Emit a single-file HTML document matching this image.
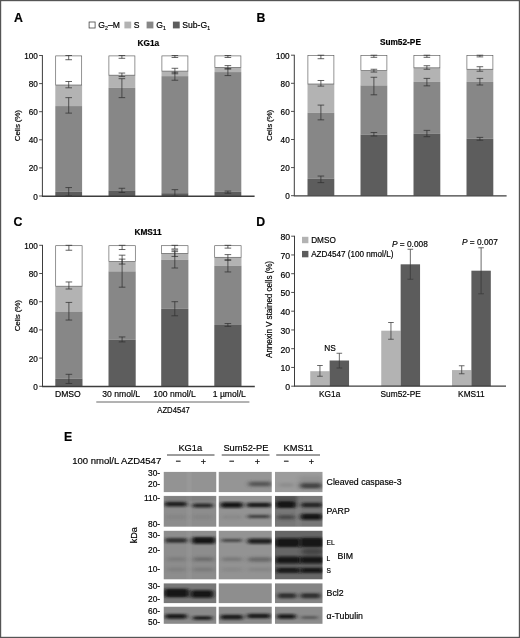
<!DOCTYPE html>
<html><head><meta charset="utf-8"><title>Figure</title>
<style>html,body{margin:0;padding:0;background:#fff}svg{display:block}text{font-family:'Liberation Sans', sans-serif;fill:#000;stroke:#000;stroke-width:0.18px}</style>
</head><body>
<svg width="520" height="638" viewBox="0 0 520 638">
<defs><filter id="b1" x="-30%" y="-100%" width="160%" height="300%"><feGaussianBlur stdDeviation="2 1.25"/></filter><filter id="b2" x="-30%" y="-100%" width="160%" height="300%"><feGaussianBlur stdDeviation="2.6 1.7"/></filter><filter id="soft"><feGaussianBlur stdDeviation="0.35"/></filter></defs>
<rect x="0" y="0" width="520" height="638" fill="#fff"/>
<g filter="url(#soft)">
<rect x="0.6" y="0.6" width="518.8" height="636.8" fill="none" stroke="#555" stroke-width="1.2"/>
<text x="14" y="22.2" font-size="12.3" text-anchor="start" font-weight="bold" font-style="normal" >A</text>
<text x="256.6" y="22.2" font-size="12.3" text-anchor="start" font-weight="bold" font-style="normal" >B</text>
<text x="13.6" y="225.6" font-size="12.3" text-anchor="start" font-weight="bold" font-style="normal" >C</text>
<text x="256.3" y="225.5" font-size="12.3" text-anchor="start" font-weight="bold" font-style="normal" >D</text>
<text x="64.1" y="441.3" font-size="12.3" text-anchor="start" font-weight="bold" font-style="normal" >E</text>
<rect x="89.10000000000001" y="22.0" width="6.0" height="6.0" fill="#fff" stroke="#444" stroke-width="0.8"/>
<text x="98.3" y="28.2" font-size="8.6">G<tspan font-size="5.2" dy="1.6">2</tspan><tspan dy="-1.6">–M</tspan></text>
<rect x="124.4" y="21.6" width="6.8" height="6.8" fill="#b3b3b3"/>
<text x="133.8" y="28.2" font-size="8.6" text-anchor="start" font-weight="normal" font-style="normal" >S</text>
<rect x="146.6" y="21.6" width="6.8" height="6.8" fill="#878787"/>
<text x="156.2" y="28.2" font-size="8.6">G<tspan font-size="5.2" dy="1.6">1</tspan></text>
<rect x="172.9" y="21.6" width="6.8" height="6.8" fill="#5d5d5d"/>
<text x="182.3" y="28.2" font-size="8.6">Sub-G<tspan font-size="5.2" dy="1.6">1</tspan></text>
<rect x="55.3" y="55.5" width="26.8" height="29.5" fill="#ffffff"/>
<rect x="55.3" y="85.0" width="26.8" height="21.07" fill="#b3b3b3"/>
<rect x="55.3" y="106.08" width="26.8" height="85.7" fill="#878787"/>
<rect x="55.3" y="191.78" width="26.8" height="4.21" fill="#5d5d5d"/>
<rect x="55.699999999999996" y="55.9" width="26.0" height="29.11" stroke="#5a5a5a" stroke-width="0.65" fill="none"/>
<path d="M68.7 187.57V196.0M65.4 187.57H72.0M65.4 196.0H72.0" stroke="#303030" stroke-width="0.75" fill="none"/>
<path d="M68.7 97.65V113.11M65.4 97.65H72.0M65.4 113.11H72.0" stroke="#303030" stroke-width="0.75" fill="none"/>
<path d="M68.7 81.49V87.81M65.4 81.49H72.0M65.4 87.81H72.0" stroke="#303030" stroke-width="0.75" fill="none"/>
<path d="M68.7 55.5V59.72M65.4 55.5H72.0M65.4 59.72H72.0" stroke="#303030" stroke-width="0.75" fill="none"/>
<rect x="108.5" y="55.5" width="26.8" height="19.67" fill="#ffffff"/>
<rect x="108.5" y="75.17" width="26.8" height="12.64" fill="#b3b3b3"/>
<rect x="108.5" y="87.81" width="26.8" height="102.56" fill="#878787"/>
<rect x="108.5" y="190.38" width="26.8" height="5.62" fill="#5d5d5d"/>
<rect x="108.9" y="55.9" width="26.0" height="19.27" stroke="#5a5a5a" stroke-width="0.65" fill="none"/>
<path d="M121.9 188.27V192.49M118.60000000000001 188.27H125.2M118.60000000000001 192.49H125.2" stroke="#303030" stroke-width="0.75" fill="none"/>
<path d="M121.9 78.68V97.65M118.60000000000001 78.68H125.2M118.60000000000001 97.65H125.2" stroke="#303030" stroke-width="0.75" fill="none"/>
<path d="M121.9 73.06V76.58M118.60000000000001 73.06H125.2M118.60000000000001 76.58H125.2" stroke="#303030" stroke-width="0.75" fill="none"/>
<path d="M121.9 55.5V58.31M118.60000000000001 55.5H125.2M118.60000000000001 58.31H125.2" stroke="#303030" stroke-width="0.75" fill="none"/>
<rect x="161.5" y="55.5" width="26.8" height="15.6" fill="#ffffff"/>
<rect x="161.5" y="71.1" width="26.8" height="5.06" fill="#b3b3b3"/>
<rect x="161.5" y="76.15" width="26.8" height="117.04" fill="#878787"/>
<rect x="161.5" y="193.19" width="26.8" height="2.81" fill="#5d5d5d"/>
<rect x="161.9" y="55.9" width="26.0" height="15.2" stroke="#5a5a5a" stroke-width="0.65" fill="none"/>
<path d="M174.9 189.68V196.0M171.6 189.68H178.20000000000002M171.6 196.0H178.20000000000002" stroke="#303030" stroke-width="0.75" fill="none"/>
<path d="M174.9 72.22V80.23M171.6 72.22H178.20000000000002M171.6 80.23H178.20000000000002" stroke="#303030" stroke-width="0.75" fill="none"/>
<path d="M174.9 68.29V73.77M171.6 68.29H178.20000000000002M171.6 73.77H178.20000000000002" stroke="#303030" stroke-width="0.75" fill="none"/>
<path d="M174.9 55.5V57.47M171.6 55.5H178.20000000000002M171.6 57.47H178.20000000000002" stroke="#303030" stroke-width="0.75" fill="none"/>
<rect x="214.5" y="55.5" width="26.8" height="11.94" fill="#ffffff"/>
<rect x="214.5" y="67.44" width="26.8" height="4.64" fill="#b3b3b3"/>
<rect x="214.5" y="72.08" width="26.8" height="119.71" fill="#878787"/>
<rect x="214.5" y="191.78" width="26.8" height="4.21" fill="#5d5d5d"/>
<rect x="214.9" y="55.9" width="26.0" height="11.54" stroke="#5a5a5a" stroke-width="0.65" fill="none"/>
<path d="M227.9 191.08V193.19M224.6 191.08H231.20000000000002M224.6 193.19H231.20000000000002" stroke="#303030" stroke-width="0.75" fill="none"/>
<path d="M227.9 68.71V75.59M224.6 68.71H231.20000000000002M224.6 75.59H231.20000000000002" stroke="#303030" stroke-width="0.75" fill="none"/>
<path d="M227.9 65.62V68.99M224.6 65.62H231.20000000000002M224.6 68.99H231.20000000000002" stroke="#303030" stroke-width="0.75" fill="none"/>
<path d="M227.9 55.5V57.47M224.6 55.5H231.20000000000002M224.6 57.47H231.20000000000002" stroke="#303030" stroke-width="0.75" fill="none"/>
<path d="M42.4 55.1V196" stroke="#3c3c3c" stroke-width="1" fill="none"/>
<path d="M41.9 196.2H254.60000000000002" stroke="#3c3c3c" stroke-width="1.4" fill="none"/>
<path d="M39.1 196.0H42.4" stroke="#3c3c3c" stroke-width="0.9"/>
<text x="37.8" y="199.5" font-size="8.2" text-anchor="end" font-weight="normal" font-style="normal" >0</text>
<path d="M39.1 167.9H42.4" stroke="#3c3c3c" stroke-width="0.9"/>
<text x="37.8" y="171.4" font-size="8.2" text-anchor="end" font-weight="normal" font-style="normal" >20</text>
<path d="M39.1 139.8H42.4" stroke="#3c3c3c" stroke-width="0.9"/>
<text x="37.8" y="143.3" font-size="8.2" text-anchor="end" font-weight="normal" font-style="normal" >40</text>
<path d="M39.1 111.7H42.4" stroke="#3c3c3c" stroke-width="0.9"/>
<text x="37.8" y="115.2" font-size="8.2" text-anchor="end" font-weight="normal" font-style="normal" >60</text>
<path d="M39.1 83.6H42.4" stroke="#3c3c3c" stroke-width="0.9"/>
<text x="37.8" y="87.1" font-size="8.2" text-anchor="end" font-weight="normal" font-style="normal" >80</text>
<path d="M39.1 55.5H42.4" stroke="#3c3c3c" stroke-width="0.9"/>
<text x="37.8" y="59.0" font-size="8.2" text-anchor="end" font-weight="normal" font-style="normal" >100</text>
<text transform="translate(19.9 125.75) rotate(-90)" font-size="8.1" text-anchor="middle" letter-spacing="-0.2">Cells (%)</text>
<text x="148.4" y="45.9" font-size="8.3" text-anchor="middle" font-weight="bold" font-style="normal" >KG1a</text>
<rect x="307.5" y="55.2" width="26.8" height="28.8" fill="#ffffff"/>
<rect x="307.5" y="84.0" width="26.8" height="28.8" fill="#b3b3b3"/>
<rect x="307.5" y="112.8" width="26.8" height="66.03" fill="#878787"/>
<rect x="307.5" y="178.84" width="26.8" height="16.86" fill="#5d5d5d"/>
<rect x="307.9" y="55.6" width="26.0" height="28.4" stroke="#5a5a5a" stroke-width="0.65" fill="none"/>
<path d="M320.9 176.03V182.63M317.59999999999997 176.03H324.2M317.59999999999997 182.63H324.2" stroke="#303030" stroke-width="0.75" fill="none"/>
<path d="M320.9 105.08V119.83M317.59999999999997 105.08H324.2M317.59999999999997 119.83H324.2" stroke="#303030" stroke-width="0.75" fill="none"/>
<path d="M320.9 80.49V86.11M317.59999999999997 80.49H324.2M317.59999999999997 86.11H324.2" stroke="#303030" stroke-width="0.75" fill="none"/>
<path d="M320.9 55.2V58.71M317.59999999999997 55.2H324.2M317.59999999999997 58.71H324.2" stroke="#303030" stroke-width="0.75" fill="none"/>
<rect x="360.5" y="55.2" width="26.8" height="15.46" fill="#ffffff"/>
<rect x="360.5" y="70.65" width="26.8" height="14.75" fill="#b3b3b3"/>
<rect x="360.5" y="85.41" width="26.8" height="49.18" fill="#878787"/>
<rect x="360.5" y="134.58" width="26.8" height="61.12" fill="#5d5d5d"/>
<rect x="360.9" y="55.6" width="26.0" height="15.05" stroke="#5a5a5a" stroke-width="0.65" fill="none"/>
<path d="M373.9 132.47V135.99M370.59999999999997 132.47H377.2M370.59999999999997 135.99H377.2" stroke="#303030" stroke-width="0.75" fill="none"/>
<path d="M373.9 77.26V94.82M370.59999999999997 77.26H377.2M370.59999999999997 94.82H377.2" stroke="#303030" stroke-width="0.75" fill="none"/>
<path d="M373.9 69.25V72.06M370.59999999999997 69.25H377.2M370.59999999999997 72.06H377.2" stroke="#303030" stroke-width="0.75" fill="none"/>
<path d="M373.9 55.2V57.31M370.59999999999997 55.2H377.2M370.59999999999997 57.31H377.2" stroke="#303030" stroke-width="0.75" fill="none"/>
<rect x="413.5" y="55.2" width="26.8" height="12.64" fill="#ffffff"/>
<rect x="413.5" y="67.84" width="26.8" height="14.05" fill="#b3b3b3"/>
<rect x="413.5" y="81.89" width="26.8" height="51.98" fill="#878787"/>
<rect x="413.5" y="133.88" width="26.8" height="61.82" fill="#5d5d5d"/>
<rect x="413.9" y="55.6" width="26.0" height="12.24" stroke="#5a5a5a" stroke-width="0.65" fill="none"/>
<path d="M426.9 130.37V136.69M423.59999999999997 130.37H430.2M423.59999999999997 136.69H430.2" stroke="#303030" stroke-width="0.75" fill="none"/>
<path d="M426.9 78.38V85.83M423.59999999999997 78.38H430.2M423.59999999999997 85.83H430.2" stroke="#303030" stroke-width="0.75" fill="none"/>
<path d="M426.9 65.74V69.25M423.59999999999997 65.74H430.2M423.59999999999997 69.25H430.2" stroke="#303030" stroke-width="0.75" fill="none"/>
<path d="M426.9 55.2V57.31M423.59999999999997 55.2H430.2M423.59999999999997 57.31H430.2" stroke="#303030" stroke-width="0.75" fill="none"/>
<rect x="466.5" y="55.2" width="26.8" height="14.05" fill="#ffffff"/>
<rect x="466.5" y="69.25" width="26.8" height="12.64" fill="#b3b3b3"/>
<rect x="466.5" y="81.89" width="26.8" height="56.9" fill="#878787"/>
<rect x="466.5" y="138.8" width="26.8" height="56.9" fill="#5d5d5d"/>
<rect x="466.9" y="55.6" width="26.0" height="13.65" stroke="#5a5a5a" stroke-width="0.65" fill="none"/>
<path d="M479.9 137.39V140.2M476.59999999999997 137.39H483.2M476.59999999999997 140.2H483.2" stroke="#303030" stroke-width="0.75" fill="none"/>
<path d="M479.9 78.38V84.99M476.59999999999997 78.38H483.2M476.59999999999997 84.99H483.2" stroke="#303030" stroke-width="0.75" fill="none"/>
<path d="M479.9 66.72V71.22M476.59999999999997 66.72H483.2M476.59999999999997 71.22H483.2" stroke="#303030" stroke-width="0.75" fill="none"/>
<path d="M479.9 55.2V56.89M476.59999999999997 55.2H483.2M476.59999999999997 56.89H483.2" stroke="#303030" stroke-width="0.75" fill="none"/>
<path d="M294.3 54.79999999999999V195.7" stroke="#3c3c3c" stroke-width="1" fill="none"/>
<path d="M293.8 195.89999999999998H506.6" stroke="#3c3c3c" stroke-width="1.4" fill="none"/>
<path d="M291.0 195.7H294.3" stroke="#3c3c3c" stroke-width="0.9"/>
<text x="289.7" y="199.2" font-size="8.2" text-anchor="end" font-weight="normal" font-style="normal" >0</text>
<path d="M291.0 167.6H294.3" stroke="#3c3c3c" stroke-width="0.9"/>
<text x="289.7" y="171.1" font-size="8.2" text-anchor="end" font-weight="normal" font-style="normal" >20</text>
<path d="M291.0 139.5H294.3" stroke="#3c3c3c" stroke-width="0.9"/>
<text x="289.7" y="143.0" font-size="8.2" text-anchor="end" font-weight="normal" font-style="normal" >40</text>
<path d="M291.0 111.4H294.3" stroke="#3c3c3c" stroke-width="0.9"/>
<text x="289.7" y="114.9" font-size="8.2" text-anchor="end" font-weight="normal" font-style="normal" >60</text>
<path d="M291.0 83.3H294.3" stroke="#3c3c3c" stroke-width="0.9"/>
<text x="289.7" y="86.8" font-size="8.2" text-anchor="end" font-weight="normal" font-style="normal" >80</text>
<path d="M291.0 55.2H294.3" stroke="#3c3c3c" stroke-width="0.9"/>
<text x="289.7" y="58.7" font-size="8.2" text-anchor="end" font-weight="normal" font-style="normal" >100</text>
<text transform="translate(271.8 125.44999999999999) rotate(-90)" font-size="8.1" text-anchor="middle" letter-spacing="-0.2">Cells (%)</text>
<text x="400.4" y="45.1" font-size="8.3" text-anchor="middle" font-weight="bold" font-style="normal" >Sum52-PE</text>
<rect x="55.3" y="245.3" width="27.2" height="40.89" fill="#ffffff"/>
<rect x="55.3" y="286.19" width="27.2" height="25.38" fill="#b3b3b3"/>
<rect x="55.3" y="311.57" width="27.2" height="66.97" fill="#878787"/>
<rect x="55.3" y="378.55" width="27.2" height="7.75" fill="#5d5d5d"/>
<rect x="55.699999999999996" y="245.70000000000002" width="26.4" height="40.49" stroke="#5a5a5a" stroke-width="0.65" fill="none"/>
<path d="M68.9 374.31V383.48M65.60000000000001 374.31H72.2M65.60000000000001 383.48H72.2" stroke="#303030" stroke-width="0.75" fill="none"/>
<path d="M68.9 302.41V320.03M65.60000000000001 302.41H72.2M65.60000000000001 320.03H72.2" stroke="#303030" stroke-width="0.75" fill="none"/>
<path d="M68.9 281.96V289.01M65.60000000000001 281.96H72.2M65.60000000000001 289.01H72.2" stroke="#303030" stroke-width="0.75" fill="none"/>
<path d="M68.9 245.3V250.24M65.60000000000001 245.3H72.2M65.60000000000001 250.24H72.2" stroke="#303030" stroke-width="0.75" fill="none"/>
<rect x="108.5" y="245.3" width="27.2" height="16.21" fill="#ffffff"/>
<rect x="108.5" y="261.51" width="27.2" height="9.87" fill="#b3b3b3"/>
<rect x="108.5" y="271.38" width="27.2" height="68.38" fill="#878787"/>
<rect x="108.5" y="339.77" width="27.2" height="46.53" fill="#5d5d5d"/>
<rect x="108.9" y="245.70000000000002" width="26.4" height="15.81" stroke="#5a5a5a" stroke-width="0.65" fill="none"/>
<path d="M122.1 336.95V341.88M118.8 336.95H125.39999999999999M118.8 341.88H125.39999999999999" stroke="#303030" stroke-width="0.75" fill="none"/>
<path d="M122.1 255.17V287.18M118.8 255.17H125.39999999999999M118.8 287.18H125.39999999999999" stroke="#303030" stroke-width="0.75" fill="none"/>
<path d="M122.1 259.12V264.05M118.8 259.12H125.39999999999999M118.8 264.05H125.39999999999999" stroke="#303030" stroke-width="0.75" fill="none"/>
<path d="M122.1 245.3V249.53M118.8 245.3H125.39999999999999M118.8 249.53H125.39999999999999" stroke="#303030" stroke-width="0.75" fill="none"/>
<rect x="161.2" y="245.3" width="27.2" height="8.04" fill="#ffffff"/>
<rect x="161.2" y="253.34" width="27.2" height="6.49" fill="#b3b3b3"/>
<rect x="161.2" y="259.82" width="27.2" height="48.93" fill="#878787"/>
<rect x="161.2" y="308.75" width="27.2" height="77.55" fill="#5d5d5d"/>
<rect x="161.6" y="245.70000000000002" width="26.4" height="7.64" stroke="#5a5a5a" stroke-width="0.65" fill="none"/>
<path d="M174.8 301.7V315.8M171.5 301.7H178.10000000000002M171.5 315.8H178.10000000000002" stroke="#303030" stroke-width="0.75" fill="none"/>
<path d="M174.8 251.65V268.0M171.5 251.65H178.10000000000002M171.5 268.0H178.10000000000002" stroke="#303030" stroke-width="0.75" fill="none"/>
<path d="M174.8 250.09V256.44M171.5 250.09H178.10000000000002M171.5 256.44H178.10000000000002" stroke="#303030" stroke-width="0.75" fill="none"/>
<path d="M174.8 245.3V248.97M171.5 245.3H178.10000000000002M171.5 248.97H178.10000000000002" stroke="#303030" stroke-width="0.75" fill="none"/>
<rect x="214.3" y="245.3" width="27.2" height="11.98" fill="#ffffff"/>
<rect x="214.3" y="257.29" width="27.2" height="8.46" fill="#b3b3b3"/>
<rect x="214.3" y="265.75" width="27.2" height="59.22" fill="#878787"/>
<rect x="214.3" y="324.97" width="27.2" height="61.33" fill="#5d5d5d"/>
<rect x="214.70000000000002" y="245.70000000000002" width="26.4" height="11.58" stroke="#5a5a5a" stroke-width="0.65" fill="none"/>
<path d="M227.9 323.56V326.38M224.6 323.56H231.20000000000002M224.6 326.38H231.20000000000002" stroke="#303030" stroke-width="0.75" fill="none"/>
<path d="M227.9 259.82V271.95M224.6 259.82H231.20000000000002M224.6 271.95H231.20000000000002" stroke="#303030" stroke-width="0.75" fill="none"/>
<path d="M227.9 254.61V260.25M224.6 254.61H231.20000000000002M224.6 260.25H231.20000000000002" stroke="#303030" stroke-width="0.75" fill="none"/>
<path d="M227.9 245.3V248.12M224.6 245.3H231.20000000000002M224.6 248.12H231.20000000000002" stroke="#303030" stroke-width="0.75" fill="none"/>
<path d="M42.5 244.9V386.3" stroke="#3c3c3c" stroke-width="1" fill="none"/>
<path d="M42.0 386.5H254.8" stroke="#3c3c3c" stroke-width="1.4" fill="none"/>
<path d="M39.2 386.3H42.5" stroke="#3c3c3c" stroke-width="0.9"/>
<text x="37.9" y="389.8" font-size="8.2" text-anchor="end" font-weight="normal" font-style="normal" >0</text>
<path d="M39.2 358.1H42.5" stroke="#3c3c3c" stroke-width="0.9"/>
<text x="37.9" y="361.6" font-size="8.2" text-anchor="end" font-weight="normal" font-style="normal" >20</text>
<path d="M39.2 329.9H42.5" stroke="#3c3c3c" stroke-width="0.9"/>
<text x="37.9" y="333.4" font-size="8.2" text-anchor="end" font-weight="normal" font-style="normal" >40</text>
<path d="M39.2 301.7H42.5" stroke="#3c3c3c" stroke-width="0.9"/>
<text x="37.9" y="305.2" font-size="8.2" text-anchor="end" font-weight="normal" font-style="normal" >60</text>
<path d="M39.2 273.5H42.5" stroke="#3c3c3c" stroke-width="0.9"/>
<text x="37.9" y="277.0" font-size="8.2" text-anchor="end" font-weight="normal" font-style="normal" >80</text>
<path d="M39.2 245.3H42.5" stroke="#3c3c3c" stroke-width="0.9"/>
<text x="37.9" y="248.8" font-size="8.2" text-anchor="end" font-weight="normal" font-style="normal" >100</text>
<text transform="translate(20.0 315.8) rotate(-90)" font-size="8.1" text-anchor="middle" letter-spacing="-0.2">Cells (%)</text>
<text x="148" y="234.8" font-size="8.3" text-anchor="middle" font-weight="bold" font-style="normal" >KMS11</text>
<text x="67.9" y="396.8" font-size="8.6" text-anchor="middle" font-weight="normal" font-style="normal" >DMSO</text>
<text x="121.2" y="396.8" font-size="8.6" text-anchor="middle" font-weight="normal" font-style="normal" >30 nmol/L</text>
<text x="174.5" y="396.8" font-size="8.6" text-anchor="middle" font-weight="normal" font-style="normal" >100 nmol/L</text>
<text x="229.3" y="396.8" font-size="8.6" text-anchor="middle" font-weight="normal" font-style="normal" >1 µmol/L</text>
<path d="M96.3 402.0H249.4" stroke="#3c3c3c" stroke-width="0.8"/>
<text x="173.5" y="413.1" font-size="8.6" text-anchor="middle" font-weight="normal" font-style="normal" textLength="32.4" lengthAdjust="spacingAndGlyphs">AZD4547</text>
<rect x="310.25" y="371.2" width="19.4" height="15.0" fill="#b3b3b3"/>
<rect x="329.65" y="360.51" width="19.4" height="25.69" fill="#5b5b5b"/>
<path d="M319.95 365.5V376.25M317.15 365.5H322.75M317.15 376.25H322.75" stroke="#3a3a3a" stroke-width="0.75" fill="none"/>
<path d="M339.35 353.25V368M336.55 353.25H342.15000000000003M336.55 368H342.15000000000003" stroke="#3a3a3a" stroke-width="0.75" fill="none"/>
<text x="329.65" y="397.2" font-size="8.3" text-anchor="middle" font-weight="normal" font-style="normal" >KG1a</text>
<rect x="381.25" y="330.7" width="19.4" height="55.5" fill="#b3b3b3"/>
<rect x="400.65" y="264.32" width="19.4" height="121.88" fill="#5b5b5b"/>
<path d="M390.95 322.5V339.25M388.15 322.5H393.75M388.15 339.25H393.75" stroke="#3a3a3a" stroke-width="0.75" fill="none"/>
<path d="M410.35 249.25V279.25M407.55 249.25H413.15000000000003M407.55 279.25H413.15000000000003" stroke="#3a3a3a" stroke-width="0.75" fill="none"/>
<text x="400.65" y="397.2" font-size="8.3" text-anchor="middle" font-weight="normal" font-style="normal" >Sum52-PE</text>
<rect x="452" y="370.07" width="19.4" height="16.12" fill="#b3b3b3"/>
<rect x="471.4" y="270.7" width="19.4" height="115.5" fill="#5b5b5b"/>
<path d="M461.7 365.75V373.75M458.9 365.75H464.5M458.9 373.75H464.5" stroke="#3a3a3a" stroke-width="0.75" fill="none"/>
<path d="M481.1 247.75V293.75M478.3 247.75H483.90000000000003M478.3 293.75H483.90000000000003" stroke="#3a3a3a" stroke-width="0.75" fill="none"/>
<text x="471.4" y="397.2" font-size="8.3" text-anchor="middle" font-weight="normal" font-style="normal" >KMS11</text>
<path d="M294.5 235.79999999999998V386.2" stroke="#3c3c3c" stroke-width="1" fill="none"/>
<path d="M294.0 386.2H506" stroke="#3c3c3c" stroke-width="1.2" fill="none"/>
<path d="M291.2 386.2H294.5" stroke="#3c3c3c" stroke-width="0.9"/>
<text x="290.1" y="390.0" font-size="8.7" text-anchor="end" font-weight="normal" font-style="normal" >0</text>
<path d="M291.2 367.45H294.5" stroke="#3c3c3c" stroke-width="0.9"/>
<text x="290.1" y="371.25" font-size="8.7" text-anchor="end" font-weight="normal" font-style="normal" >10</text>
<path d="M291.2 348.7H294.5" stroke="#3c3c3c" stroke-width="0.9"/>
<text x="290.1" y="352.5" font-size="8.7" text-anchor="end" font-weight="normal" font-style="normal" >20</text>
<path d="M291.2 329.95H294.5" stroke="#3c3c3c" stroke-width="0.9"/>
<text x="290.1" y="333.75" font-size="8.7" text-anchor="end" font-weight="normal" font-style="normal" >30</text>
<path d="M291.2 311.2H294.5" stroke="#3c3c3c" stroke-width="0.9"/>
<text x="290.1" y="315.0" font-size="8.7" text-anchor="end" font-weight="normal" font-style="normal" >40</text>
<path d="M291.2 292.45H294.5" stroke="#3c3c3c" stroke-width="0.9"/>
<text x="290.1" y="296.25" font-size="8.7" text-anchor="end" font-weight="normal" font-style="normal" >50</text>
<path d="M291.2 273.7H294.5" stroke="#3c3c3c" stroke-width="0.9"/>
<text x="290.1" y="277.5" font-size="8.7" text-anchor="end" font-weight="normal" font-style="normal" >60</text>
<path d="M291.2 254.95H294.5" stroke="#3c3c3c" stroke-width="0.9"/>
<text x="290.1" y="258.75" font-size="8.7" text-anchor="end" font-weight="normal" font-style="normal" >70</text>
<path d="M291.2 236.2H294.5" stroke="#3c3c3c" stroke-width="0.9"/>
<text x="290.1" y="240.0" font-size="8.7" text-anchor="end" font-weight="normal" font-style="normal" >80</text>
<text transform="translate(272.0 309.5) rotate(-90)" font-size="8.2" text-anchor="middle" letter-spacing="-0.1">Annexin V stained cells (%)</text>
<rect x="302" y="236.8" width="6.4" height="6.4" fill="#b3b3b3"/>
<rect x="302" y="250.9" width="6.4" height="6.4" fill="#5b5b5b"/>
<text x="311.2" y="243.2" font-size="8.2" text-anchor="start" font-weight="normal" font-style="normal" >DMSO</text>
<text x="311.2" y="257.2" font-size="8.15" text-anchor="start" font-weight="normal" font-style="normal" >AZD4547 (100 nmol/L)</text>
<text x="330.1" y="350.9" font-size="8.3" text-anchor="middle" font-weight="normal" font-style="normal" >NS</text>
<text x="392" y="247" font-size="8.3"><tspan font-style="italic">P</tspan> = 0.008</text>
<text x="462" y="245" font-size="8.3"><tspan font-style="italic">P</tspan> = 0.007</text>
<g id="blots">
<rect x="163.75" y="471.9" width="52.5" height="20.2" fill="#939393"/>
<rect x="163.75" y="495.9" width="52.5" height="30.8" fill="#8d8d8d"/>
<rect x="163.75" y="530.8" width="52.5" height="48.5" fill="#8d8d8d"/>
<rect x="163.75" y="583.4" width="52.5" height="19.7" fill="#787878"/>
<rect x="163.75" y="606.75" width="52.5" height="17.05" fill="#8a8a8a"/>
<rect x="218.75" y="471.9" width="53.0" height="20.2" fill="#959595"/>
<rect x="218.75" y="495.9" width="53.0" height="30.8" fill="#939393"/>
<rect x="218.75" y="530.8" width="53.0" height="48.5" fill="#939393"/>
<rect x="218.75" y="583.4" width="53.0" height="19.7" fill="#8e8e8e"/>
<rect x="218.75" y="606.75" width="53.0" height="17.05" fill="#8a8a8a"/>
<rect x="275" y="471.9" width="47.5" height="20.2" fill="#9c9c9c"/>
<rect x="275" y="495.9" width="47.5" height="30.8" fill="#787878"/>
<rect x="275" y="530.8" width="47.5" height="48.5" fill="#666666"/>
<rect x="275" y="583.4" width="47.5" height="19.7" fill="#848484"/>
<rect x="275" y="606.75" width="47.5" height="17.05" fill="#8c8c8c"/>
</g>
<defs>
<clipPath id="cp00"><rect x="163.75" y="471.9" width="52.5" height="20.2"/></clipPath>
<clipPath id="cp01"><rect x="163.75" y="495.9" width="52.5" height="30.8"/></clipPath>
<clipPath id="cp02"><rect x="163.75" y="530.8" width="52.5" height="48.5"/></clipPath>
<clipPath id="cp03"><rect x="163.75" y="583.4" width="52.5" height="19.7"/></clipPath>
<clipPath id="cp04"><rect x="163.75" y="606.75" width="52.5" height="17.05"/></clipPath>
<clipPath id="cp10"><rect x="218.75" y="471.9" width="53.0" height="20.2"/></clipPath>
<clipPath id="cp11"><rect x="218.75" y="495.9" width="53.0" height="30.8"/></clipPath>
<clipPath id="cp12"><rect x="218.75" y="530.8" width="53.0" height="48.5"/></clipPath>
<clipPath id="cp13"><rect x="218.75" y="583.4" width="53.0" height="19.7"/></clipPath>
<clipPath id="cp14"><rect x="218.75" y="606.75" width="53.0" height="17.05"/></clipPath>
<clipPath id="cp20"><rect x="275" y="471.9" width="47.5" height="20.2"/></clipPath>
<clipPath id="cp21"><rect x="275" y="495.9" width="47.5" height="30.8"/></clipPath>
<clipPath id="cp22"><rect x="275" y="530.8" width="47.5" height="48.5"/></clipPath>
<clipPath id="cp23"><rect x="275" y="583.4" width="47.5" height="19.7"/></clipPath>
<clipPath id="cp24"><rect x="275" y="606.75" width="47.5" height="17.05"/></clipPath>
</defs>
<g clip-path="url(#cp00)">
<rect x="187.8" y="468.9" width="3.2" height="26.200000000000045" rx="2.2" fill="#fff" opacity="0.1" filter="url(#b1)"/>
</g>
<g clip-path="url(#cp01)">
<rect x="187.8" y="492.9" width="3.2" height="36.80000000000007" rx="2.2" fill="#fff" opacity="0.1" filter="url(#b1)"/>
<rect x="164.5" y="501.8" width="22.5" height="4.8" rx="2.2" fill="#161616" opacity="0.92" filter="url(#b1)"/>
<rect x="164" y="496.0" width="52" height="5" rx="2.2" fill="#444" opacity="0.2" filter="url(#b2)"/>
<rect x="192.5" y="503.4" width="20.5" height="4.2" rx="2.1" fill="#161616" opacity="0.88" filter="url(#b1)"/>
<rect x="166" y="515.5" width="20" height="3" rx="1.5" fill="#555" opacity="0.18" filter="url(#b2)"/>
<rect x="193" y="515.5" width="19" height="3" rx="1.5" fill="#555" opacity="0.18" filter="url(#b2)"/>
</g>
<g clip-path="url(#cp02)">
<rect x="187.8" y="527.8" width="3.2" height="54.5" rx="2.2" fill="#fff" opacity="0.1" filter="url(#b1)"/>
<rect x="165" y="538.0" width="22.5" height="4.8" rx="2.2" fill="#1a1a1a" opacity="0.8" filter="url(#b1)"/>
<rect x="192" y="537.1" width="23.5" height="6.6" rx="2.2" fill="#161616" opacity="1.0" filter="url(#b1)"/>
<rect x="167" y="557.7" width="19" height="3" rx="1.5" fill="#444" opacity="0.28" filter="url(#b2)"/>
<rect x="193" y="557.45" width="21" height="3.5" rx="1.75" fill="#444" opacity="0.5" filter="url(#b2)"/>
<rect x="167" y="568.0" width="19" height="3" rx="1.5" fill="#444" opacity="0.22" filter="url(#b2)"/>
<rect x="193" y="568.0" width="21" height="3" rx="1.5" fill="#444" opacity="0.3" filter="url(#b2)"/>
</g>
<g clip-path="url(#cp03)">
<rect x="164" y="588.75" width="25" height="8.5" rx="2.2" fill="#161616" opacity="1.0" filter="url(#b1)"/>
<rect x="190.5" y="590.25" width="23.0" height="7.5" rx="2.2" fill="#161616" opacity="1.0" filter="url(#b1)"/>
</g>
<g clip-path="url(#cp04)">
<rect x="165" y="614.0" width="22" height="4.8" rx="2.2" fill="#161616" opacity="0.95" filter="url(#b1)"/>
<rect x="192.5" y="616.2" width="20.0" height="3.6" rx="1.8" fill="#161616" opacity="0.9" filter="url(#b1)"/>
</g>
<g clip-path="url(#cp10)">
<rect x="248.5" y="481.7" width="23.0" height="4.6" rx="2.2" fill="#333" opacity="0.7" filter="url(#b2)"/>
</g>
<g clip-path="url(#cp11)">
<rect x="220.5" y="502.25" width="22.5" height="5.5" rx="2.2" fill="#161616" opacity="1.0" filter="url(#b1)"/>
<rect x="246.5" y="502.75" width="25.0" height="4.5" rx="2.2" fill="#161616" opacity="0.95" filter="url(#b1)"/>
<rect x="247.5" y="514.7" width="22.5" height="3.6" rx="1.8" fill="#222" opacity="0.7" filter="url(#b1)"/>
<rect x="222" y="515.5" width="20" height="3" rx="1.5" fill="#555" opacity="0.2" filter="url(#b2)"/>
</g>
<g clip-path="url(#cp12)">
<rect x="221.5" y="538.7" width="20.5" height="3.2" rx="1.6" fill="#222" opacity="0.65" filter="url(#b1)"/>
<rect x="247.5" y="538.6" width="25.5" height="5.2" rx="2.2" fill="#161616" opacity="0.92" filter="url(#b1)"/>
<rect x="222" y="557.8" width="20" height="3" rx="1.5" fill="#444" opacity="0.42" filter="url(#b2)"/>
<rect x="248" y="557.6" width="24" height="3.8" rx="1.9" fill="#444" opacity="0.6" filter="url(#b2)"/>
<rect x="222" y="568.0" width="20" height="3" rx="1.5" fill="#444" opacity="0.15" filter="url(#b2)"/>
<rect x="248" y="568.0" width="24" height="3" rx="1.5" fill="#444" opacity="0.2" filter="url(#b2)"/>
</g>
<g clip-path="url(#cp14)">
<rect x="220.5" y="614.8" width="22.5" height="4.8" rx="2.2" fill="#161616" opacity="0.95" filter="url(#b1)"/>
<rect x="247" y="613.8" width="23.5" height="4.4" rx="2.2" fill="#161616" opacity="0.95" filter="url(#b1)"/>
</g>
<g clip-path="url(#cp20)">
<rect x="300" y="483.05" width="22" height="5.5" rx="2.2" fill="#2a2a2a" opacity="0.8" filter="url(#b2)"/>
<rect x="299" y="476.0" width="24" height="8" rx="2.2" fill="#555" opacity="0.15" filter="url(#b2)"/>
<rect x="279" y="483.25" width="15" height="3.5" rx="1.75" fill="#555" opacity="0.25" filter="url(#b2)"/>
</g>
<g clip-path="url(#cp21)">
<rect x="296.5" y="494.0" width="3.5" height="34" rx="2.2" fill="#fff" opacity="0.1" filter="url(#b1)"/>
<rect x="275.5" y="501.1" width="20.5" height="7" rx="2.2" fill="#161616" opacity="1.0" filter="url(#b1)"/>
<rect x="274" y="495.5" width="24" height="6" rx="2.2" fill="#222" opacity="0.45" filter="url(#b2)"/>
<rect x="277" y="515.3" width="18" height="4" rx="2.0" fill="#222" opacity="0.6" filter="url(#b2)"/>
<rect x="301" y="502.75" width="21.5" height="4.5" rx="2.2" fill="#151515" opacity="0.85" filter="url(#b1)"/>
<rect x="300.5" y="513.8" width="22.0" height="6" rx="2.2" fill="#161616" opacity="1.0" filter="url(#b1)"/>
</g>
<g clip-path="url(#cp22)">
<rect x="275" y="538.3" width="25.5" height="8.6" rx="2.2" fill="#161616" opacity="1.0" filter="url(#b1)"/>
<rect x="299.5" y="537.8" width="24.5" height="9.2" rx="2.2" fill="#161616" opacity="1.0" filter="url(#b1)"/>
<rect x="302" y="548.5" width="21" height="6" rx="2.2" fill="#222" opacity="0.5" filter="url(#b2)"/>
<rect x="275.5" y="556.4" width="24.7" height="7.2" rx="2.2" fill="#161616" opacity="1.0" filter="url(#b1)"/>
<rect x="299.8" y="556.4" width="24.2" height="7.2" rx="2.2" fill="#161616" opacity="1.0" filter="url(#b1)"/>
<rect x="276" y="567.7" width="24" height="5.4" rx="2.2" fill="#161616" opacity="0.95" filter="url(#b1)"/>
<rect x="300" y="567.7" width="24" height="5.4" rx="2.2" fill="#161616" opacity="0.95" filter="url(#b1)"/>
</g>
<g clip-path="url(#cp23)">
<rect x="277.5" y="593.3" width="19.0" height="5" rx="2.2" fill="#1a1a1a" opacity="0.82" filter="url(#b1)"/>
<rect x="300.5" y="593.3" width="20.0" height="5" rx="2.2" fill="#1a1a1a" opacity="0.82" filter="url(#b1)"/>
</g>
<g clip-path="url(#cp24)">
<rect x="277" y="614.2" width="19" height="4.6" rx="2.2" fill="#161616" opacity="1.0" filter="url(#b1)"/>
<rect x="301" y="616.2" width="17" height="2.6" rx="1.3" fill="#222" opacity="0.55" filter="url(#b1)"/>
</g>
<path d="M167 455H214.5" stroke="#222" stroke-width="0.9"/>
<text x="190.3" y="451.3" font-size="9.3" text-anchor="middle" font-weight="normal" font-style="normal" >KG1a</text>
<path d="M221.75 455H269.5" stroke="#222" stroke-width="0.9"/>
<text x="245.9" y="451.3" font-size="9.3" text-anchor="middle" font-weight="normal" font-style="normal" >Sum52-PE</text>
<path d="M276.25 455H320" stroke="#222" stroke-width="0.9"/>
<text x="298.4" y="451.3" font-size="9.3" text-anchor="middle" font-weight="normal" font-style="normal" >KMS11</text>
<text x="178.25" y="464.3" font-size="9" text-anchor="middle" font-weight="normal" font-style="normal" >−</text>
<text x="203.4" y="465.4" font-size="9" text-anchor="middle" font-weight="normal" font-style="normal" >+</text>
<text x="231.75" y="464.3" font-size="9" text-anchor="middle" font-weight="normal" font-style="normal" >−</text>
<text x="257.3" y="465.4" font-size="9" text-anchor="middle" font-weight="normal" font-style="normal" >+</text>
<text x="286.25" y="464.3" font-size="9" text-anchor="middle" font-weight="normal" font-style="normal" >−</text>
<text x="311.5" y="465.4" font-size="9" text-anchor="middle" font-weight="normal" font-style="normal" >+</text>
<text x="161.2" y="464.1" font-size="9.5" text-anchor="end" font-weight="normal" font-style="normal" >100 nmol/L AZD4547</text>
<text x="160.1" y="476" font-size="8.4" text-anchor="end" font-weight="normal" font-style="normal" >30-</text>
<text x="160.1" y="486.75" font-size="8.4" text-anchor="end" font-weight="normal" font-style="normal" >20-</text>
<text x="160.1" y="501" font-size="8.4" text-anchor="end" font-weight="normal" font-style="normal" >110-</text>
<text x="160.1" y="527.25" font-size="8.4" text-anchor="end" font-weight="normal" font-style="normal" >80-</text>
<text x="160.1" y="537.8" font-size="8.4" text-anchor="end" font-weight="normal" font-style="normal" >30-</text>
<text x="160.1" y="552.8" font-size="8.4" text-anchor="end" font-weight="normal" font-style="normal" >20-</text>
<text x="160.1" y="572.25" font-size="8.4" text-anchor="end" font-weight="normal" font-style="normal" >10-</text>
<text x="160.1" y="589.0" font-size="8.4" text-anchor="end" font-weight="normal" font-style="normal" >30-</text>
<text x="160.1" y="602.25" font-size="8.4" text-anchor="end" font-weight="normal" font-style="normal" >20-</text>
<text x="160.1" y="614.25" font-size="8.4" text-anchor="end" font-weight="normal" font-style="normal" >60-</text>
<text x="160.1" y="624.75" font-size="8.4" text-anchor="end" font-weight="normal" font-style="normal" >50-</text>
<text transform="translate(137.4 535.3) rotate(-90)" font-size="9" text-anchor="middle">kDa</text>
<text x="326.6" y="485.0" font-size="8.75" text-anchor="start" font-weight="normal" font-style="normal" >Cleaved caspase-3</text>
<text x="326.6" y="513.9" font-size="8.75" text-anchor="start" font-weight="normal" font-style="normal" >PARP</text>
<text x="326.6" y="544.5" font-size="6.6" text-anchor="start" font-weight="normal" font-style="normal" >EL</text>
<text x="326.6" y="561.1" font-size="6.6" text-anchor="start" font-weight="normal" font-style="normal" >L</text>
<text x="326.6" y="573.1" font-size="6.6" text-anchor="start" font-weight="normal" font-style="normal" >S</text>
<text x="337.5" y="558.8" font-size="8.75" text-anchor="start" font-weight="normal" font-style="normal" >BIM</text>
<text x="326.6" y="596.3" font-size="8.75" text-anchor="start" font-weight="normal" font-style="normal" >Bcl2</text>
<text x="326.6" y="619.0" font-size="8.75" text-anchor="start" font-weight="normal" font-style="normal" >α-Tubulin</text>
</g>
</svg></body></html>
